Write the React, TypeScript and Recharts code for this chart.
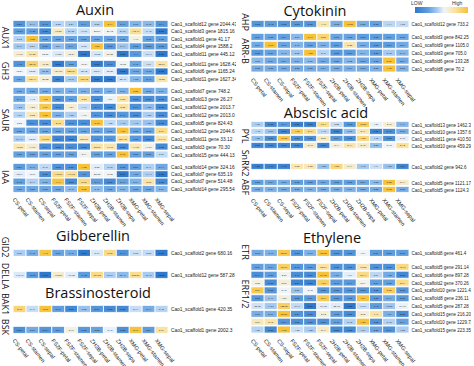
import { BarChart, Bar, XAxis, YAxis, Cell, LabelList } from 'recharts';

const tissues = ['CS-petal', 'CS-stamen', 'CS-sepal', 'FS2F-petal', 'FS2F-stamen', 'FS2F-sepal', 'ZH2B-petal', 'ZH2B-stamen', 'ZH2B-sepa', 'XMG-petal', 'XMG-stamen', 'XMG-sepal'];

// Auxin
const aux1Genes = ['Cao1_scaffold12 gene 2044.43', 'Cao1_scaffold3 gene 1815.16', 'Cao1_scaffold1 gene 41.17', 'Cao1_scaffold4 gene 1588.2', 'Cao1_scaffold11 gene 445.12'];
const aux1Values = [
  [0.09, 0.33, 0.10, 0.44, 0.41, 0.17, 0.42, 2.17, 0.19, 0.28, 0.30, 0.11],
  [10.66, 11.05, 5.00, 75.04, 27.50, 33.57, 48.89, 49.74, 27.87, 110.77, 31.36, 0.00],
  [0.52, 9.28, 0.00, 0.00, 0.02, 0.00, 0.02, 0.00, 0.00, 1.19, 0.00, 0.00],
  [0.33, 0.41, 0.05, 0.27, 0.11, 0.52, 3.28, 0.00, 0.31, 0.04, 0.00, 0.00],
  [33.99, 53.28, 24.06, 19.02, 34.03, 0.00, 18.24, 29.00, 0.00, 3.13, 15.73, 0.00],
];
const gh3Genes = ['Cao1_scaffold11 gene 1628.42', 'Cao1_scaffold6 gene 1165.24', 'Cao1_scaffold11 gene 1627.34'];
const gh3Values = [
  [1.10, 40.30, 15.50, 0.00, 2.00, 10.03, 0.00, 0.75, 10.60, 2.32, 7.01, 20.69],
  [70.21, 60.06, 25.50, 107.66, 228.27, 50.74, 54.53, 60.45, 2.04, 15.55, 16.09, 0.00],
  [5.07, 106.73, 48.04, 0.47, 12.97, 168.30, 0.00, 0.00, 22.18, 7.80, 4.15, 78.00],
];
const saurGenes = ['Cao1_scaffold7 gene 748.2', 'Cao1_scaffold13 gene 26.27', 'Cao1_scaffold12 gene 2013.7', 'Cao1_scaffold12 gene 2013.0', 'Cao1_scaffold5 gene 824.43', 'Cao1_scaffold12 gene 2044.6', 'Cao1_scaffold11 gene 33.12', 'Cao1_scaffold3 gene 70.30', 'Cao1_scaffold15 gene 444.13'];
const saurValues = [
  [0.00, 0.00, 0.00, 0.01, 0.01, 0.01, 0.00, 0.01, 0.01, 0.48, 0.00, 0.01],
  [0.31, 1.12, 3.85, 0.06, 0.27, 2.08, 0.00, 1.21, 2.06, 0.00, 0.00, 0.00],
  [1.24, 3.00, 7.87, 0.10, 3.01, 1.73, 0.13, 0.00, 4.00, 0.17, 1.00, 0.00],
  [1.07, 2.44, 7.86, 0.55, 1.00, 1.79, 0.13, 0.00, 0.19, 0.00, 1.00, 0.00],
  [2.00, 0.11, 0.05, 4.14, 0.15, 0.10, 8.30, 1.44, 1.12, 1.10, 1.00, 0.00],
  [0.00, 0.00, 0.00, 0.00, 0.00, 0.00, 0.00, 0.00, 1.07, 0.00, 0.00, 0.51],
  [23.39, 64.65, 716.29, 0.17, 0.00, 260.96, 1.37, 2.19, 457.30, 2.82, 0.29, 317.19],
  [18.28, 13.63, 0.17, 0.00, 0.11, 0.00, 20.88, 19.18, 0.00, 17.90, 11.03, 0.00],
  [0.00, 0.00, 0.00, 0.00, 0.00, 0.11, 0.00, 0.00, 0.38, 0.00, 0.00, 0.07],
];
const iaaGenes = ['Cao1_scaffold14 gene 324.16', 'Cao1_scaffold7 gene 635.19', 'Cao1_scaffold7 gene 514.48', 'Cao1_scaffold14 gene 295.54'];
const iaaValues = [
  [0.07, 0.16, 0.35, 0.00, 0.00, 1.84, 0.44, 0.32, 0.04, 0.09, 0.31, 0.13],
  [30.91, 35.53, 2.00, 130.86, 119.98, 3.27, 40.84, 38.86, 0.07, 7.00, 17.33, 0.00],
  [0.14, 0.37, 0.22, 1.37, 0.00, 0.96, 0.13, 0.00, 0.16, 0.23, 0.80, 0.00],
  [0.00, 0.00, 0.00, 0.00, 0.10, 2.80, 0.10, 0.00, 0.07, 0.00, 0.00, 0.07],
];

// Gibberellin / Brassinosteroid
const gid2Genes = ['Cao1_scaffold2 gene 680.16'];
const gid2Values = [[0.43, 0.30, 1.18, 0.27, 0.30, 0.02, 0.53, 0.90, 0.17, 0.50, 0.48, 0.02]];
const dellaGenes = ['Cao1_scaffold12 gene 587.28'];
const dellaValues = [[110.16, 35.60, 8.75, 174.08, 118.00, 37.08, 307.00, 78.97, 58.33, 282.09, 75.36, 10.64]];
const bak1Genes = ['Cao1_scaffold1 gene 420.35'];
const bak1Values = [[0.75, 0.33, 0.98, 0.12, 0.00, 0.24, 0.07, 0.02, 0.00, 0.33, 0.17, 0.30]];
const bskGenes = ['Cao1_scaffold1 gene 2002.3'];
const bskValues = [[0.00, 0.05, 0.01, 0.03, 0.16, 0.02, 0.04, 0.14, 0.00, 0.37, 0.03, 0.21]];

// Cytokinin
const ahpGenes = ['Cao1_scaffold12 gene 733.2'];
const ahpValues = [[0.00, 0.14, 0.00, 0.05, 0.00, 3.16, 0.40, 15.48, 0.40, 0.22, 1.11, 1.20]];
const arrbGenes = ['Cao1_scaffold3 gene 842.25', 'Cao1_scaffold9 gene 1105.0', 'Cao1_scaffold3 gene 705.0', 'Cao1_scaffold6 gene 133.28', 'Cao1_scaffold8 gene 70.2'];
const arrbValues = [
  [0.01, 0.02, 0.01, 0.07, 0.73, 0.45, 0.02, 0.02, 0.00, 0.00, 0.01, 0.02],
  [0.07, 0.98, 0.06, 0.10, 0.05, 0.09, 0.03, 0.40, 0.08, 0.02, 0.03, 0.07],
  [0.00, 0.07, 0.18, 0.28, 3.05, 0.36, 0.00, 0.01, 0.17, 0.02, 0.30, 0.18],
  [0.05, 0.01, 0.01, 0.03, 0.05, 0.01, 0.00, 0.04, 0.00, 0.00, 0.96, 0.01],
  [0.00, 0.00, 0.00, 0.00, 0.00, 0.01, 0.00, 0.01, 0.00, 0.02, 1.98, 0.02],
];

// Abscisic acid
const pylGenes = ['Cao1_scaffold13 gene 1462.3', 'Cao1_scaffold10 gene 1357.6', 'Cao1_scaffold11 gene 410.50', 'Cao1_scaffold10 gene 459.29'];
const pylValues = [
  [1.96, 0.20, 0.73, 0.00, 0.00, 6.61, 2.42, 0.55, 10.48, 3.07, 4.16, 1.31],
  [1.12, 0.89, 0.00, 3.92, 2.97, 1.12, 0.00, 0.80, 2.31, 0.00, 0.15, 0.60],
  [1.02, 0.00, 10.50, 0.00, 0.00, 4.06, 0.27, 0.00, 7.04, 1.58, 0.00, 2.38],
  [0.00, 0.00, 0.00, 0.00, 0.12, 0.00, 0.11, 0.13, 0.12, 0.06, 0.10, 0.14],
];
const snrk2Genes = ['Cao1_scaffold2 gene 942.6'];
const snrk2Values = [[1.28, 1.36, 1.38, 5.58, 5.48, 3.00, 7.08, 5.11, 3.18, 3.71, 3.02, 1.41]];
const abfGenes = ['Cao1_scaffold5 gene 1121.17', 'Cao1_scaffold5 gene 1124.3'];
const abfValues = [
  [0.00, 0.01, 0.02, 0.00, 0.00, 0.01, 0.00, 0.00, 0.01, 0.04, 0.48, 0.17],
  [0.00, 0.01, 0.00, 0.00, 0.01, 0.00, 0.00, 0.01, 0.00, 0.00, 0.90, 0.00],
];

// Ethylene
const etrGenes = ['Cao1_scaffold8 gene 461.4'];
const etrValues = [[0.60, 0.76, 20.87, 0.00, 0.75, 25.60, 0.00, 0.00, 3.61, 0.21, 0.28, 0.25]];
const erfGenes = ['Cao1_scaffold5 gene 291.14', 'Cao1_scaffold6 gene 897.28', 'Cao1_scaffold2 gene 370.26', 'Cao1_scaffold10 gene 1221.43', 'Cao1_scaffold8 gene 236.11', 'Cao1_scaffold5 gene 287.28', 'Cao1_scaffold15 gene 216.20', 'Cao1_scaffold10 gene 1229.73', 'Cao1_scaffold15 gene 223.35'];
const erfValues = [
  [0.67, 0.83, 52.99, 0.14, 0.26, 20.87, 0.00, 0.00, 18.00, 0.05, 0.00, 35.19],
  [0.13, 0.66, 4.26, 0.16, 0.07, 21.98, 1.09, 3.61, 10.13, 2.51, 1.00, 0.00],
  [0.62, 0.08, 0.66, 0.03, 0.02, 1.09, 0.18, 0.17, 0.61, 0.21, 0.22, 0.91],
  [0.21, 0.00, 0.10, 0.05, 0.10, 0.00, 0.00, 0.00, 0.00, 0.00, 0.20, 0.00],
  [0.00, 0.37, 1.06, 0.00, 0.01, 2.63, 0.00, 0.00, 3.01, 0.00, 0.17, 0.00],
  [20.50, 13.27, 140.86, 18.17, 0.00, 23.94, 24.14, 0.00, 19.57, 5.38, 12.50, 27.12],
  [0.95, 0.97, 25.06, 0.21, 0.00, 4.74, 0.54, 0.00, 4.64, 7.17, 1.01, 0.00],
  [0.67, 0.72, 0.03, 0.00, 0.00, 0.00, 0.10, 0.32, 1.45, 0.02, 0.32, 0.11],
  [1.09, 0.00, 7.60, 1.28, 1.00, 2.31, 0.00, 0.00, 1.01, 0.46, 0.17, 1.00],
];

const colorStops: [number, number[]][] = [
  [-1.5, [47, 120, 203]],
  [-0.5, [96, 158, 222]],
  [0.1, [168, 203, 240]],
  [0.6, [240, 245, 251]],
  [1.2, [250, 226, 160]],
  [2.2, [245, 194, 58]],
];

function zColor(z: number) {
  if (z <= colorStops[0][0]) return `rgb(${colorStops[0][1].join(',')})`;
  for (let i = 1; i < colorStops.length; i++) {
    const [z1, c1] = colorStops[i];
    const [z0, c0] = colorStops[i - 1];
    if (z <= z1) {
      const t = (z - z0) / (z1 - z0);
      const c = c0.map((v, k) => Math.round(v + (c1[k] - v) * t));
      return `rgb(${c.join(',')})`;
    }
  }
  return `rgb(${colorStops[colorStops.length - 1][1].join(',')})`;
}

// row-scaled colours, log2(x+1)
function rowColors(values: number[][]) {
  return values.map((row) => {
    const l = row.map((v) => Math.log2(v + 1));
    const mean = l.reduce((a, b) => a + b, 0) / l.length;
    const sd = Math.sqrt(l.reduce((a, b) => a + (b - mean) ** 2, 0) / l.length);
    return l.map((v) => zColor(sd === 0 ? 0 : (v - mean) / sd));
  });
}

const labelFont = "'Liberation Sans Narrow', 'Liberation Sans', Arial, sans-serif";

function TissueTick(props: any) {
  const { x, y, payload } = props;
  const tx = x - 4;
  const ty = y + 3;
  return (
    <text x={tx} y={ty} transform={`rotate(52 ${tx} ${ty})`} fontSize={5.6} fill="#222" fontFamily={labelFont} textAnchor="start" dominantBaseline="hanging">
      {tissues[Math.floor(payload.value)]}
    </text>
  );
}

function GeneTick(props: any) {
  const { x, y, payload, charW } = props;
  const s = String(payload.value);
  return (
    <text
      x={x}
      y={y}
      fontSize={5.4}
      fill="#1a1a1a"
      fontFamily={labelFont}
      textAnchor="start"
      dominantBaseline="central"
      textLength={s.length * charW}
      lengthAdjust="spacingAndGlyphs"
    >
      {s}
    </text>
  );
}

interface BlockProps {
  genes: string[];
  values: number[][];
  x: number;
  y: number;
  rowH: number;
  cellsW: number;
  labelW: number;
  charW: number;
  gap: number;
  showX?: boolean;
}

function Block({ genes, values, x, y, rowH, cellsW, labelW, charW, gap, showX }: BlockProps) {
  const data = genes.map((g, ri) => {
    const o: any = { gene: g };
    values[ri].forEach((v, ci) => {
      o['w' + ci] = 1;
      o['v' + ci] = v;
    });
    return o;
  });
  const colors = rowColors(values);
  const xH = showX ? 40 : 0;
  return (
    <div style={{ position: 'absolute', left: x, top: y }}>
      <BarChart
        layout="vertical"
        width={cellsW + labelW}
        height={genes.length * rowH + xH}
        data={data}
        margin={{ top: 0, right: 0, bottom: 0, left: 0 }}
        barCategoryGap={0.4}
        style={{ overflow: 'visible' }}
      >
        <XAxis
          type="number"
          domain={[0, 12]}
          ticks={tissues.map((_, i) => i + 0.5)}
          interval={0}
          hide={!showX}
          height={xH}
          axisLine={false}
          tickLine={false}
          tickSize={0}
          tick={<TissueTick />}
        />
        <YAxis
          type="category"
          dataKey="gene"
          orientation="right"
          width={labelW}
          axisLine={false}
          tickLine={false}
          tickSize={0}
          tickMargin={gap}
          interval={0}
          tick={<GeneTick charW={charW} />}
        />
        {tissues.map((t, ci) => (
          <Bar key={t} dataKey={'w' + ci} stackId="s" isAnimationActive={false} stroke="#ffffff" strokeWidth={0.8}>
            {data.map((_, ri) => (
              <Cell key={ri} fill={colors[ri][ci]} />
            ))}
            <LabelList
              dataKey={'v' + ci}
              position="center"
              fontSize={2.8}
              fill="#1a1a1a"
              formatter={(v: any) => Number(v).toFixed(2)}
            />
          </Bar>
        ))}
      </BarChart>
    </div>
  );
}

function Title({ text, cx, cy }: { text: string; cx: number; cy: number }) {
  return (
    <div
      style={{
        position: 'absolute',
        left: cx - 80,
        top: cy - 10,
        width: 160,
        textAlign: 'center',
        fontFamily: "'Open Sans', sans-serif",
        fontSize: 14.5,
        lineHeight: '20px',
        color: '#111',
      }}
    >
      {text}
    </div>
  );
}

function Group({ text, cx, cy }: { text: string; cx: number; cy: number }) {
  return (
    <div
      style={{
        position: 'absolute',
        left: cx - 6,
        top: cy,
        transform: 'translateY(-50%)',
        writingMode: 'vertical-rl',
        fontFamily: "'Open Sans', sans-serif",
        fontSize: 9,
        lineHeight: '12px',
        color: '#111',
        whiteSpace: 'nowrap',
      }}
    >
      {text}
    </div>
  );
}

export default function App() {
  const L = { x: 13, cellsW: 155, labelW: 68, charW: 2.36, gap: 3 };
  const R = { x: 251, cellsW: 158, labelW: 62, charW: 2.2, gap: 2.5 };
  return (
    <div style={{ position: 'fixed', left: 0, top: 0, width: 474, height: 366, background: '#fff', overflow: 'hidden' }}>
      <Title text="Auxin" cx={95} cy={10} />
      <Block genes={aux1Genes} values={aux1Values} y={19.5} rowH={7.5} {...L} />
      <Block genes={gh3Genes} values={gh3Values} y={60.3} rowH={7.6} {...L} />
      <Block genes={saurGenes} values={saurValues} y={86.5} rowH={7.95} {...L} />
      <Block genes={iaaGenes} values={iaaValues} y={163} rowH={7.35} showX {...L} />
      <Group text="AUX1" cx={4.5} cy={38} />
      <Group text="GH3" cx={4.5} cy={71} />
      <Group text="SAUR" cx={4.5} cy={120} />
      <Group text="IAA" cx={4.5} cy={177} />

      <Title text="Gibberellin" cx={93} cy={236} />
      <Block genes={gid2Genes} values={gid2Values} y={248.5} rowH={7.4} {...L} />
      <Block genes={dellaGenes} values={dellaValues} y={271.3} rowH={7.4} {...L} />
      <Title text="Brassinosteroid" cx={98} cy={293} />
      <Block genes={bak1Genes} values={bak1Values} y={305.3} rowH={7.4} {...L} />
      <Block genes={bskGenes} values={bskValues} y={325.5} rowH={7.4} showX {...L} />
      <Group text="GID2" cx={4.5} cy={247} />
      <Group text="DELLA" cx={4.5} cy={276} />
      <Group text="BAK1" cx={4.5} cy={304} />
      <Group text="BSK" cx={4.5} cy={327} />

      <Title text="Cytokinin" cx={315} cy={11} />
      <Block genes={ahpGenes} values={ahpValues} y={20.3} rowH={7.4} {...R} />
      <Block genes={arrbGenes} values={arrbValues} y={33} rowH={7.9} showX {...R} />
      <Group text="AHP" cx={245} cy={22} />
      <Group text="ARR-B" cx={245} cy={51} />

      <Title text="Abscisic acid" cx={326} cy={113} />
      <Block genes={pylGenes} values={pylValues} y={120.8} rowH={7.0} {...R} />
      <Block genes={snrk2Genes} values={snrk2Values} y={163.2} rowH={7.0} {...R} />
      <Block genes={abfGenes} values={abfValues} y={178.6} rowH={7.0} showX {...R} />
      <Group text="PYL" cx={245} cy={136} />
      <Group text="SnRK2" cx={245} cy={163} />
      <Group text="ABF" cx={245} cy={187} />

      <Title text="Ethylene" cx={332} cy={238} />
      <Block genes={etrGenes} values={etrValues} y={248.6} rowH={7.4} {...R} />
      <Block genes={erfGenes} values={erfValues} y={262.8} rowH={7.83} showX {...R} />
      <Group text="ETR" cx={245} cy={252} />
      <Group text="ERF1/2" cx={245} cy={294} />

      {/* colour key */}
      <div style={{ position: 'absolute', left: 411, top: 0, fontFamily: labelFont, fontSize: 5, color: '#333' }}>LOW</div>
      <div style={{ position: 'absolute', left: 452, top: 0, fontFamily: labelFont, fontSize: 5, color: '#333' }}>High</div>
      <div
        style={{
          position: 'absolute',
          left: 415,
          top: 7,
          width: 53,
          height: 5.5,
          background: 'linear-gradient(to right, rgb(47,120,203) 0%, rgb(96,158,222) 25%, rgb(168,203,240) 42%, rgb(240,245,251) 55%, rgb(250,226,160) 75%, rgb(245,194,58) 100%)',
        }}
      />
    </div>
  );
}
